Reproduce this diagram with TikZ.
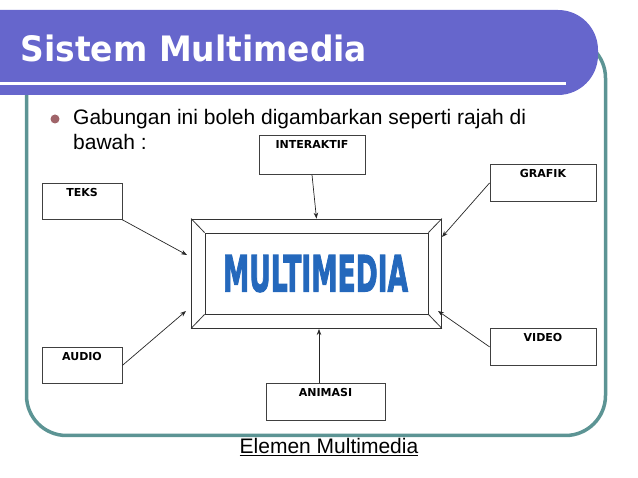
\documentclass[tikz,border=0pt]{standalone}
\usepackage{fontspec}
\usepackage{graphicx}
\setmainfont{Liberation Sans}
\newfontfamily\dejavu{DejaVu Sans}
\newfontfamily\heavyfont[FakeBold=2.6]{DejaVu Sans Bold}
\usetikzlibrary{arrows.meta,positioning}

\definecolor{barblue}{RGB}{102,102,204}
\definecolor{frameteal}{RGB}{92,148,148}
\definecolor{bulletrose}{RGB}{160,100,105}
\definecolor{mmblue}{RGB}{36,104,188}

\tikzset{
	elemen/.style={draw=black!75, line width=0.8pt, anchor=north, inner xsep=0pt, inner ysep=5.5pt, text height=8pt, font=\dejavu\bfseries\fontsize{11}{13}\selectfont},
	feed/.style={draw=black!85, line width=0.7pt, -{Stealth[length=6pt,width=4.5pt]}},
	bevel/.style={draw=black!80, line width=0.8pt, inner sep=0pt},
	mmfont/.style={anchor=base, inner sep=0pt, font=\heavyfont\fontsize{50}{52}\selectfont}
}

\begin{document}
\begin{tikzpicture}[x=1pt,y=-1pt]
	\useasboundingbox (0,0) rectangle (638,478);
	
	% Teal frame, half hidden under the title bar
	\draw[frameteal, line width=3.5pt, rounded corners=40pt] (26.5,38) rectangle (605.5,435.5);
	
	% Title bar
	\fill[barblue, rounded corners=40pt] (0,10) -- (598,10) -- (598,95) -- (0,95);
	\fill[white] (0,82.5) rectangle (566,85.5);
	\node[anchor=base west, inner sep=0pt, text=white, font=\dejavu\bfseries\fontsize{35}{40}\selectfont] (title) at (20.5,61.5) {\scalebox{0.94}[1]{Sistem Multimedia}};
	
	% Bullet line
	\node[circle, fill=bulletrose, inner sep=0pt, minimum size=9pt] (dot) at (55,119) {};
	\node[anchor=base west, inner sep=0pt, font=\fontsize{21}{25}\selectfont] (introA) at (73,125) {Gabungan ini boleh digambarkan seperti rajah di};
	\node[anchor=base west, inner sep=0pt, font=\fontsize{21}{25}\selectfont] (introB) at (73,150) {bawah :};
	
	% Element boxes
	\node[elemen, minimum width=80pt, text depth=17pt] (teks) at (82,183) {TEKS};
	\node[elemen, minimum width=80pt, text depth=17pt] (audio) at (82,347) {AUDIO};
	\node[elemen, minimum width=106pt, text depth=20pt] (interaktif) at (312,135) {INTERAKTIF};
	\node[elemen, minimum width=106pt, text depth=18pt] (grafik) at (543,164) {GRAFIK};
	\node[elemen, minimum width=106pt, text depth=18pt] (video) at (543,328) {VIDEO};
	\node[elemen, minimum width=119pt, text depth=18pt] (animasi) at (325.5,383) {ANIMASI};
	
	% Bevelled frame in the middle
	\node[bevel, minimum width=250pt, minimum height=109pt] (frame) at (316.5,273.5) {};
	\node[bevel, minimum width=223pt, minimum height=81pt] (panel) at (316.5,273.5) {};
	\foreach \c in {north west, north east, south east, south west}
		\draw[bevel] (frame.\c) -- (panel.\c);
	\node[mmfont, text=mmblue] (mmword) at (315.5,291.5) {\scalebox{0.53}[1]{MULTIMEDIA}};
	
	% Arrows into the frame
	\coordinate (tipTeks) at (187,255);
	\coordinate (tipAudio) at (186,311);
	\coordinate (tipGrafik) at (442,237);
	\coordinate (tipVideo) at (438,311);
	\coordinate (tipAnim) at (319,329);
	\draw[feed] (teks.south east) -- (tipTeks);
	\draw[feed] (audio.east) -- (tipAudio);
	\draw[feed] (interaktif.south) -- (frame.north);
	\draw[feed] (grafik.west) -- (tipGrafik);
	\draw[feed] (video.west) -- (tipVideo);
	\draw[feed] (animasi.north -| tipAnim) -- (tipAnim);
	
	% Caption
	\node[anchor=base, inner sep=0pt, font=\fontsize{21}{25}\selectfont] (caption) at (329,454) {\underline{Elemen Multimedia}};
\end{tikzpicture}
\end{document}
